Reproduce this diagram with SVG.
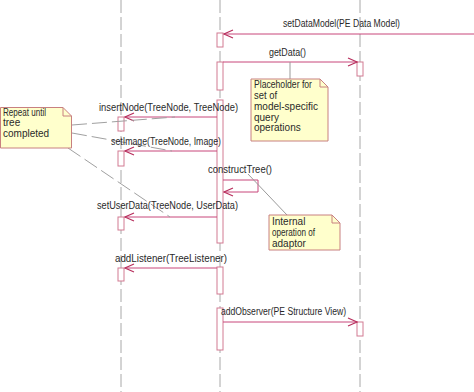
<svg xmlns="http://www.w3.org/2000/svg" width="474" height="392" viewBox="0 0 474 392">
<style>
  .life { stroke: #a8a8a8; stroke-width: 1; stroke-dasharray: 13 4; fill: none; }
  .act { fill: #ffffff; stroke: #d27a92; stroke-width: 1; }
  .msg { stroke: #c8467a; stroke-width: 1; fill: none; marker-end: url(#open); }
  .lbl { font-family: "Liberation Sans", Arial, sans-serif; font-size: 10px; fill: #2a2a2a; }
  .note { fill: #ffffcc; stroke: #c88080; stroke-width: 1; }
  .fold { fill: none; stroke: #c88080; stroke-width: 1; }
  .link { stroke: #9a9a9a; stroke-width: 1; fill: none; }
  .dlink { stroke: #a0a0a0; stroke-width: 1; fill: none; stroke-dasharray: 15 5; }
</style>
<defs>
  <marker id="open" viewBox="-10 -5 11 10" refX="0" refY="0" markerWidth="11" markerHeight="10" markerUnits="userSpaceOnUse" orient="auto">
    <path d="M-9,-4 L0,0 L-9,4" fill="none" stroke="#b8305e" stroke-width="1.2"/>
  </marker>
</defs>
<rect width="474" height="392" fill="#ffffff"/>

<g id="lifelines">
  <line class="life" x1="121" y1="0" x2="121" y2="392"/>
  <line class="life" x1="220" y1="0" x2="220" y2="392"/>
  <line class="life" x1="360" y1="0" x2="360" y2="392"/>
</g>

<g id="activations">
  <rect class="act" x="217" y="33" width="6" height="14"/>
  <rect class="act" x="217" y="62" width="6" height="28"/>
  <rect class="act" x="217" y="100" width="6" height="143"/>
  <rect class="act" x="217" y="267" width="6" height="27"/>
  <rect class="act" x="217" y="308" width="6" height="42"/>
  <rect class="act" x="357" y="62" width="6" height="14"/>
  <rect class="act" x="357" y="322" width="6" height="14"/>
  <rect class="act" x="118" y="117" width="6" height="14"/>
  <rect class="act" x="118" y="151" width="6" height="15"/>
  <rect class="act" x="118" y="217" width="6" height="13"/>
  <rect class="act" x="118" y="268" width="6" height="13"/>
</g>

<g id="connectors">
  <path class="msg" d="M474,34 H224"/>
  <path class="msg" d="M223,62 H357"/>
  <path class="msg" d="M217,117 H125"/>
  <path class="msg" d="M217,151 H125"/>
  <path class="msg" d="M223,180 H258 V192 H224"/>
  <path class="msg" d="M217,217 H125"/>
  <path class="msg" d="M217,268 H125"/>
  <path class="msg" d="M223,322 H357"/>
  <line class="link" x1="290" y1="62" x2="290" y2="79"/>
  <line class="link" x1="248" y1="174" x2="287" y2="215"/>
  <line class="dlink" x1="72" y1="125" x2="175" y2="117"/>
  <line class="dlink" x1="72" y1="133" x2="172" y2="151"/>
  <line class="dlink" x1="68" y1="148" x2="170" y2="217"/>
</g>

<g id="labels">
  <text class="lbl" x="283" y="27" textLength="117" lengthAdjust="spacingAndGlyphs">setDataModel(PE Data Model)</text>
  <text class="lbl" x="269" y="56" textLength="37" lengthAdjust="spacingAndGlyphs">getData()</text>
  <text class="lbl" x="99" y="111" textLength="139" lengthAdjust="spacingAndGlyphs">insertNode(TreeNode, TreeNode)</text>
  <text class="lbl" x="111" y="145" textLength="110" lengthAdjust="spacingAndGlyphs">setImage(TreeNode, Image)</text>
  <text class="lbl" x="208" y="173" textLength="64" lengthAdjust="spacingAndGlyphs">constructTree()</text>
  <text class="lbl" x="97" y="209" textLength="141" lengthAdjust="spacingAndGlyphs">setUserData(TreeNode, UserData)</text>
  <text class="lbl" x="115" y="262" textLength="112" lengthAdjust="spacingAndGlyphs">addListener(TreeListener)</text>
  <text class="lbl" x="221" y="315" textLength="125" lengthAdjust="spacingAndGlyphs">addObserver(PE Structure View)</text>
</g>

<g id="note-placeholder">
  <path class="note" d="M251,79 H320 L328,87 V141 H251 Z"/>
  <path class="fold" d="M320,79 V87 H328"/>
  <text class="lbl" x="254" y="88" textLength="58" lengthAdjust="spacingAndGlyphs">Placeholder for</text>
  <text class="lbl" x="254" y="99" textLength="23" lengthAdjust="spacingAndGlyphs">set of</text>
  <text class="lbl" x="254" y="110">model-specific</text>
  <text class="lbl" x="254" y="120.5">query</text>
  <text class="lbl" x="254" y="131">operations</text>
</g>

<g id="note-repeat">
  <path class="note" d="M0.5,107.5 H63 L71.5,116 V148 H0.5 Z"/>
  <path class="fold" d="M63,107.5 V116 H71.5"/>
  <text class="lbl" x="3" y="115.5" textLength="43" lengthAdjust="spacingAndGlyphs">Repeat until</text>
  <text class="lbl" x="3" y="126">tree</text>
  <text class="lbl" x="3" y="136.5">completed</text>
</g>

<g id="note-internal">
  <path class="note" d="M269,215 H332 L340,223 V250 H269 Z"/>
  <path class="fold" d="M332,215 V223 H340"/>
  <text class="lbl" x="272" y="225">Internal</text>
  <text class="lbl" x="272" y="236" textLength="43" lengthAdjust="spacingAndGlyphs">operation of</text>
  <text class="lbl" x="272" y="246.5">adaptor</text>
</g>
</svg>
